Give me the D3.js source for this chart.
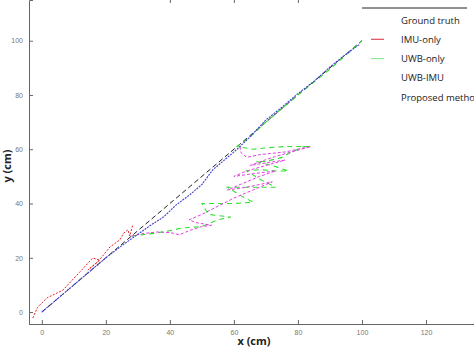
<!DOCTYPE html>
<html lang="en">
<head>
	<meta charset="utf-8">
	<title>Trajectory comparison</title>
	<script src="https://cdn.jsdelivr.net/npm/d3@7/dist/d3.min.js"></script>
	<style>
		body { margin: 0; background: #fff; font-family: "Open Sans", "DejaVu Sans", sans-serif; }
		.tick text { fill: #777; font-size: 7px; }
		.tick line, .domain { stroke: #666; }
	</style>
</head>
<body>
	<script>
		var width = 474;
		var height = 349;

		// tick labels
		var xTicks = [0, 20, 40, 60, 80, 100, 120];
		var yTicks = [0, 20, 40, 60, 80, 100];

		// legend
		var legendNames = ["Ground truth", "IMU-only", "UWB-only", "UWB-IMU", "Proposed method"];

		// trajectories [x, y] in cm
		var groundTruth = [[0, 0], [100, 100]];

		var imuOnly = [[-2.8, -2.2], [-1.3, 1.8], [1.6, 5.2], [6.6, 8.1], [11.9, 14.8], [15.9, 19.9],
			[18.1, 19.2], [14.4, 15.5], [17.5, 18.5], [21.3, 24], [24.4, 26.6], [25.5, 29],
			[26.9, 30.3], [27.5, 28], [28.4, 32.1]];

		var uwbOnly = [[28, 28], [35, 29], [40, 30], [44, 31], [50, 31.5], [55, 34], [59, 35],
			[52, 36], [50, 40], [54, 40], [60, 40], [66, 40.5], [62, 43], [58, 46], [62, 46],
			[69, 46], [73, 46], [68, 49], [64, 52], [68, 52.5], [73, 52], [77, 52], [72, 54],
			[67, 55.5], [70, 55.5], [75, 57], [78, 59], [82, 61], [84, 61], [76, 61], [70, 60.5],
			[66, 60], [61, 61], [65, 64.5], [70, 70], [80, 80], [90, 89.5], [100, 100]];

		var uwbImu = [[28, 28], [32, 29], [36, 29.5], [40, 29.3], [43, 28.5], [46, 30], [50, 31.5],
			[53, 32], [48, 33], [46, 34], [50, 36], [55, 39], [60, 42], [66, 45], [72, 48],
			[64, 46], [58, 45], [62, 47], [68, 50], [73, 52], [66, 51], [60, 50], [64, 52],
			[70, 54], [76, 56], [70, 55], [65, 54], [72, 57], [78, 59], [84, 61], [76, 59],
			[68, 58], [64, 57], [62, 59], [62, 61]];

		var proposed = [[0, 0], [5, 5], [10, 10], [15, 15], [20, 20], [25, 24.5], [28, 27],
			[31, 29.5], [34, 32], [38, 35], [42, 39.5], [46, 43], [50, 47], [53.4, 52.4],
			[57, 56], [61, 60], [65, 64.5], [70, 70.8], [75, 75.5], [80, 80.5], [85, 85],
			[90, 90.3], [95, 95], [99.4, 98.8]];

		var svg = d3.select("body")
			.append("svg")
			.attr("width", width)
			.attr("height", height);

		var x = d3.scaleLinear().domain([-4, 135]).range([29, 474]);
		var y = d3.scaleLinear().domain([-4.4, 115]).range([324, 0]);

		// axes, ticks pointing inward
		svg.append("g")
			.attr("transform", "translate(0,324)")
			.call(d3.axisBottom(x).tickValues(xTicks).tickSize(-4).tickPadding(6));
		svg.append("g")
			.attr("transform", "translate(29,0)")
			.call(d3.axisLeft(y).tickValues(yTicks).tickSize(-4).tickPadding(6));
		// ticks along the top edge
		svg.append("g")
			.call(d3.axisTop(x).tickValues([40, 60, 80]).tickSize(-3).tickFormat(""))
			.select(".domain").remove();

		var line = d3.line()
			.x(function(d) { return x(d[0]); })
			.y(function(d) { return y(d[1]); });

		var series = [
			{ data: groundTruth, color: "#222", dash: "5,3", w: 1 },
			{ data: imuOnly, color: "#e8202a", dash: "2,1.5", w: 1 },
			{ data: uwbOnly, color: "#30e030", dash: "5,4", w: 1.1 },
			{ data: uwbImu, color: "#e040e0", dash: "3,2", w: 1 },
			{ data: proposed, color: "#4040d0", dash: "2,1", w: 1.1 }
		];

		svg.selectAll("path.traj")
			.data(series)
			.enter()
			.append("path")
			.attr("class", "traj")
			.attr("fill", "none")
			.attr("stroke", function(d) { return d.color; })
			.attr("stroke-width", function(d) { return d.w; })
			.attr("stroke-dasharray", function(d) { return d.dash; })
			.attr("d", function(d) { return line(d.data); });

		// axis labels
		svg.append("text")
			.attr("x", 254).attr("y", 345)
			.attr("text-anchor", "middle")
			.attr("font-size", 11).attr("font-weight", "bold").attr("fill", "#222")
			.text("x (cm)");
		svg.append("text")
			.attr("transform", "translate(11,166) rotate(-90)")
			.attr("text-anchor", "middle")
			.attr("font-size", 11).attr("font-weight", "bold").attr("fill", "#222")
			.text("y (cm)");

		// legend
		svg.append("line")
			.attr("x1", 362).attr("x2", 467).attr("y1", 8).attr("y2", 8)
			.attr("stroke", "#222").attr("stroke-width", 1);
		var legendColors = [null, "#e04a5a", "#90e890", null, null];
		var lg = svg.selectAll("g.leg")
			.data(legendNames)
			.enter()
			.append("g")
			.attr("class", "leg")
			.attr("transform", function(d, i) { return "translate(0," + (20 + i * 19.3) + ")"; });
		lg.append("text")
			.attr("x", 401).attr("y", 3.5)
			.attr("font-size", 9.5).attr("fill", "#222")
			.text(function(d) { return d; });
		lg.filter(function(d, i) { return legendColors[i]; })
			.append("line")
			.attr("x1", 371).attr("x2", 384)
			.attr("stroke", function(d) { return legendColors[legendNames.indexOf(d)]; })
			.attr("stroke-width", 1.2);
	</script>
</body>
</html>
